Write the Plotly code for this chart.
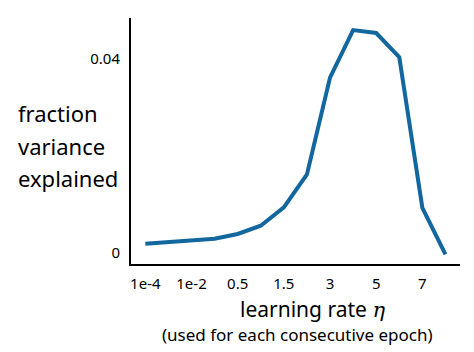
import plotly.graph_objects as go

# data
eta_index = list(range(14))
fve = [0.0019, 0.0022, 0.0026, 0.0029, 0.0039, 0.0056, 0.0094, 0.0162,
       0.0362, 0.0460, 0.0454, 0.0404, 0.0093, -0.0003]
tick_pos = [0, 2, 4, 6, 8, 10, 12]
tick_text = ["1e-4", "1e-2", "0.5", "1.5", "3", "5", "7"]
y_ticks = [0, 0.04]
y_tick_text = ["0", "0.04"]
y_title_lines = ["fraction", "variance", "explained"]

FONT = "Noto Sans"
L, R, T, B = 131, 14, 18, 88
PW, PH = 474 - L - R, 352 - T - B


def px(x):
    return (x - L) / PW


def py(y):
    return (352 - B - y) / PH


fig = go.Figure()
fig.add_trace(go.Scatter(x=eta_index, y=fve, mode="lines",
                         line=dict(color="#11679e", width=4)))

fig.update_layout(
    width=474, height=352,
    margin=dict(l=L, r=R, t=T, b=B),
    paper_bgcolor="white", plot_bgcolor="white",
    showlegend=False,
    font=dict(family=FONT, color="black", size=15),
)
fig.update_xaxes(range=[-0.62, 13.63], tickvals=tick_pos, ticktext=tick_text,
                 showgrid=False, zeroline=False, showline=True,
                 linecolor="black", linewidth=2, ticks="",
                 ticklabelstandoff=5, tickfont=dict(size=15))
fig.update_yaxes(range=[-0.0023, 0.0485], tickvals=y_ticks, ticktext=y_tick_text,
                 showgrid=False, zeroline=False, showline=True,
                 linecolor="black", linewidth=2, ticks="",
                 ticklabelstandoff=6, tickfont=dict(size=15))

for txt, yc in zip(y_title_lines, [113, 146, 178]):
    fig.add_annotation(xref="paper", yref="paper", x=px(16), y=py(yc),
                       xanchor="left", yanchor="middle", align="left", showarrow=False,
                       text=txt, font=dict(size=22, family=FONT))

fig.add_annotation(xref="paper", yref="paper", x=px(312), y=py(309),
                   xanchor="center", yanchor="middle", showarrow=False,
                   text="learning rate <span style='font-family:DejaVu Serif'><i>η</i></span>",
                   font=dict(size=21, family=FONT))
fig.add_annotation(xref="paper", yref="paper", x=px(297), y=py(334),
                   xanchor="center", yanchor="middle", showarrow=False,
                   text="(used for each consecutive epoch)",
                   font=dict(size=17, family=FONT))

fig.write_html("out.html")
